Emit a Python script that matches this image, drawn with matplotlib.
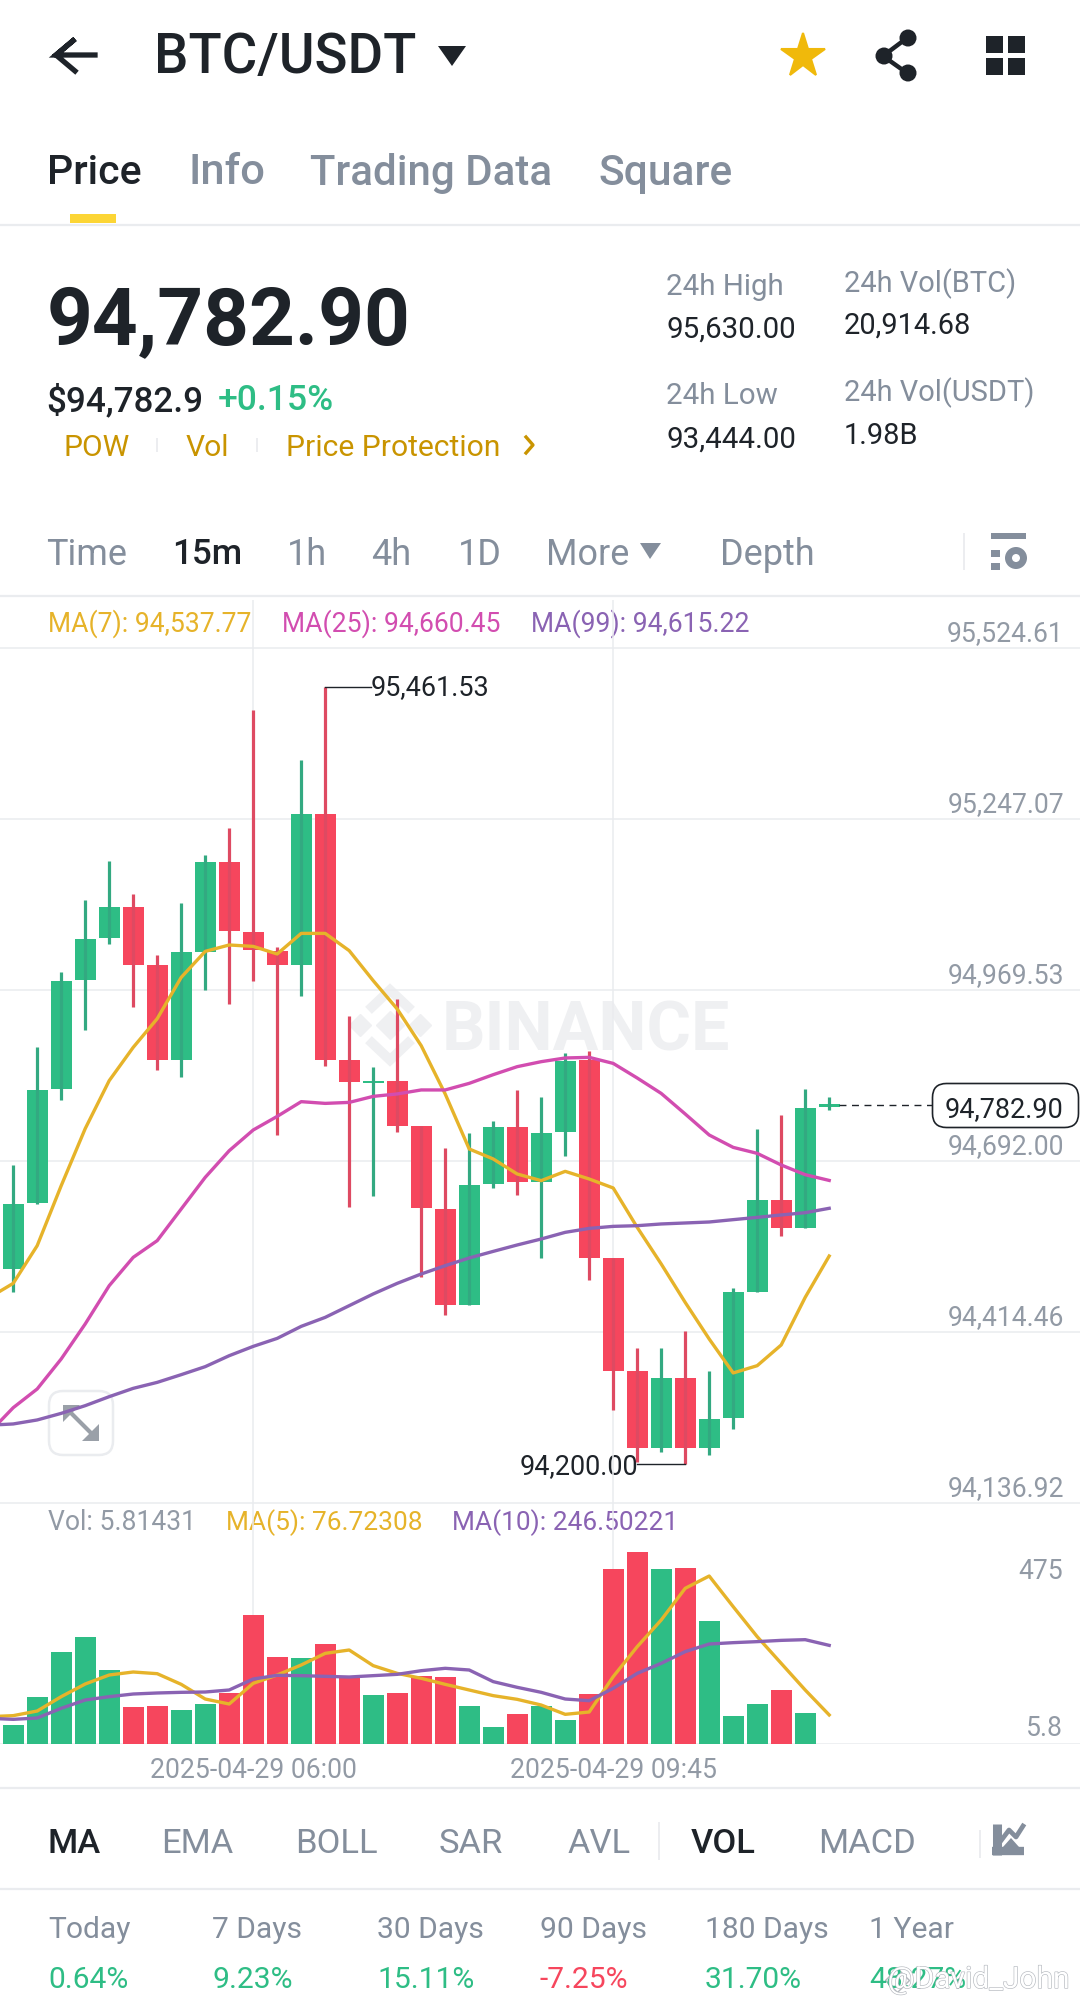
import matplotlib
matplotlib.use("Agg")
import matplotlib.pyplot as plt
import matplotlib.patheffects as pe
from matplotlib.patches import FancyBboxPatch, Polygon, Rectangle, Circle

plt.rcParams['font.family'] = ['Roboto', 'DejaVu Sans']

# candles, oldest first
opens = [94516.7, 94623.2, 94808.9, 94986.3, 95053.3, 95104.3, 95009.5, 94856.4, 95031.7, 95177.8,
         95064.2, 95033.4, 95010.1, 95255.2, 94855.3, 94818.3, 94822.4, 94748.2, 94614.1, 94458.8,
         94654.7, 94746.6, 94657.3, 94738.5, 94856.0, 94534.6, 94350.6, 94225.6, 94339.8, 94226.7,
         94274.9, 94479.9, 94629.2, 94582.6, 94780.0]
highs = [94685.5, 94877.5, 94998.1, 95116.1, 95178.3, 95125.4, 95026.9, 95110.1, 95188.7, 95232.5,
         95424.0, 95039.8, 95343.3, 95461.53, 94927.9, 94843.9, 94955.0, 94749.0, 94712.5, 94737.5,
         94757.4, 94807.8, 94796.4, 94866.7, 94869.9, 94534.6, 94389.0, 94389.0, 94415.5, 94350.6,
         94485.9, 94744.0, 94766.0, 94808.9, 94795.3]
lows = [94478.8, 94622.7, 94791.5, 94904.6, 95044.2, 94941.3, 94840.2, 94827.7, 94970.1, 94946.8,
        94984.7, 94734.7, 94959.2, 94846.7, 94617.9, 94635.7, 94738.5, 94503.1, 94442.1, 94458.8,
        94648.2, 94637.3, 94534.0, 94699.5, 94498.9, 94287.9, 94202.9, 94219.1, 94200.00, 94215.4,
        94256.4, 94479.9, 94569.7, 94582.6, 94774.8]
closes = [94621.6, 94807.8, 94984.7, 95052.3, 95104.3, 95010.6, 94856.4, 95030.6, 95177.8, 95064.7,
          95034.5, 95010.1, 95255.2, 94856.4, 94819.6, 94821.2, 94749.3, 94615.1, 94458.8, 94653.6,
          94746.6, 94657.3, 94736.8, 94854.8, 94534.6, 94351.7, 94225.6, 94339.8, 94226.7, 94273.8,
          94478.8, 94629.2, 94582.6, 94778.1, 94782.90]

# moving averages start one candle before the first full candle (it is cut by the edge)
ma_x = list(range(-1, 35))
ma7 = [94470.2, 94493.4, 94554.6, 94651.9, 94744.5, 94822.4, 94876.4, 94923.0, 94990.0, 95032.2,
       95042.6, 95040.3, 95028.0, 95061.4, 95061.4, 95033.4, 94984.7, 94938.7, 94879.2, 94800.8,
       94711.5, 94695.3, 94670.9, 94660.1, 94675.2, 94662.8, 94648.2, 94584.3, 94524.9, 94462.5,
       94403.1, 94348.0, 94359.8, 94393.4, 94470.7, 94537.77]
ma25 = [94251.1, 94291.6, 94322.0, 94370.7, 94427.5, 94489.6, 94535.6, 94562.7, 94614.1, 94665.4,
        94708.7, 94742.3, 94764.4, 94788.3, 94785.5, 94787.1, 94796.9, 94800.8, 94807.3, 94807.3,
        94818.0, 94832.1, 94845.1, 94853.2, 94859.2, 94860.2, 94850.4, 94826.7, 94801.7, 94768.3,
        94734.2, 94714.1, 94704.4, 94685.5, 94669.8, 94660.45]
ma99 = [94263.2, 94265.2, 94271.7, 94282.4, 94294.9, 94309.5, 94323.0, 94332.7, 94345.2, 94358.2,
        94376.0, 94391.1, 94404.1, 94423.6, 94438.2, 94457.2, 94476.2, 94493.4, 94508.6, 94522.1,
        94534.6, 94545.3, 94555.7, 94565.4, 94576.2, 94582.6, 94585.9, 94587.0, 94589.8, 94591.4,
        94593.0, 94596.8, 94600.5, 94604.4, 94608.1, 94615.22]

volumes = [52.1, 120.5, 230.3, 267.7, 185.6, 96.1, 98.6, 89.6, 103.4, 131.1,
           320.6, 217.3, 215.7, 249.8, 170.1, 125.4, 129.4, 172.6, 169.3, 98.6,
           47.3, 79.0, 99.4, 63.6, 127.0, 433.7, 475.0, 432.0, 435.3, 305.2,
           73.3, 104.2, 136.8, 80.6, 5.81431]
vol_ma5 = [72.5, 75.0, 86.3, 121.3, 152.2, 174.2, 181.5, 177.4, 151.4, 115.6,
           103.4, 153.8, 174.2, 198.6, 227.0, 235.2, 197.0, 178.2, 166.1, 151.4,
           137.6, 123.8, 114.8, 100.9, 78.2, 83.9, 170.1, 243.3, 308.4, 385.7,
           415.7, 340.9, 267.7, 202.6, 137.6, 76.72308]
vol_ma10 = [68.5, 66.0, 69.2, 92.9, 113.2, 121.3, 127.8, 130.3, 131.9, 132.7,
            137.6, 164.4, 173.4, 172.6, 170.9, 169.3, 172.6, 175.8, 184.7, 190.5,
            186.4, 158.0, 144.1, 131.9, 115.6, 111.5, 141.7, 178.2, 202.6, 231.2,
            249.8, 253.1, 255.6, 258.7, 260.4, 246.50221]

price_ticks = [95524.61, 95247.07, 94969.53, 94692.00, 94414.46, 94136.92]
price_labels = ['95,524.61', '95,247.07', '94,969.53', '94,692.00', '94,414.46', '94,136.92']
time_ticks = [10, 25]
time_labels = ['2025-04-29 06:00', '2025-04-29 09:45']

GREEN = '#2EBD85'
RED = '#F6465D'
GREEN_WICK = '#33A981'
RED_WICK = '#DE4A62'
YELLOW = '#E6B32A'
PINK = '#D24DB0'
PURPLE = '#8A63B3'
DARK = '#1E2329'
GRAY = '#848E9C'
LABEL = '#929AA5'
GOLD = '#C99400'
LINE = '#EAECEF'
MARK = '#EFF0F2'

W, H = 1080, 2002
fig = plt.figure(figsize=(W / 100, H / 100), dpi=100, facecolor='white')

# page layer in pixel coordinates
ui = fig.add_axes([0, 0, 1, 1], zorder=0)
ui.set_xlim(0, W)
ui.set_ylim(H, 0)
ui.axis('off')


def txt(x, y, s, size, color=GRAY, weight='normal', ha='left'):
    # +3 because va=center sits a little high for these fonts
    return ui.text(x, y + 3, s, fontsize=size * 0.72, color=color, fontweight=weight, ha=ha, va='center')


def hline(y, x0=0, x1=W, color=LINE, lw=1.6):
    ui.plot([x0, x1], [y, y], color=color, lw=lw, solid_capstyle='butt')


def vline(x, y0, y1, color=LINE, lw=1.3):
    ui.plot([x, x], [y0, y1], color=color, lw=lw, solid_capstyle='butt')


# header
ui.plot([95, 56, 75, 56, 75], [55, 55, 39, 55, 71], color=DARK, lw=3.8, solid_joinstyle='miter')
txt(154, 55, 'BTC/USDT', 54.5, DARK, 'medium')
ui.add_patch(Polygon([[438, 46], [466, 46], [452, 66]], color=DARK, lw=0))
ui.plot(803, 56, marker='*', ms=33, color='#F0B90B', mec='#F0B90B', mew=1.5)
ui.plot([907, 883, 907], [38, 56, 73], color=DARK, lw=3.2)
for cx, cy in [(908, 38), (884, 56), (908, 73)]:
    ui.add_patch(Circle((cx, cy), 8.5, color=DARK, lw=0))
for gx, gy in [(986, 36), (1008, 36), (986, 58), (1008, 58)]:
    ui.add_patch(Rectangle((gx, gy), 17, 17, color=DARK, lw=0))

# tabs
txt(47, 170, 'Price', 41, DARK, 'medium')
txt(188, 170, 'Info', 43.5, GRAY, 'medium')
txt(310, 170, 'Trading Data', 42, GRAY, 'medium')
txt(599, 170, 'Square', 42.5, GRAY, 'medium')
ui.add_patch(Rectangle((70, 214), 46, 9, color='#FCD535', lw=0))
hline(225)

# price block
txt(47, 320, '94,782.90', 80, DARK, 'bold')
txt(46, 398, '$94,782.9', 35, DARK, 'medium')
txt(218, 398, '+0.15%', 35.5, GREEN, 'medium')
txt(64, 445, 'POW', 30, GOLD)
vline(157, 438, 452)
txt(186, 445, 'Vol', 30, GOLD)
vline(257, 438, 452)
txt(286, 445, 'Price Protection', 30, GOLD)
ui.plot([526, 533, 526], [437, 445, 453], color=GOLD, lw=2.4)

txt(666, 284, '24h High', 29.5)
txt(666, 327, '95,630.00', 29.5, DARK)
txt(844, 281, '24h Vol(BTC)', 29)
txt(844, 323, '20,914.68', 29, DARK)
txt(666, 393, '24h Low', 29.5)
txt(666, 437, '93,444.00', 29.5, DARK)
txt(844, 390, '24h Vol(USDT)', 29)
txt(844, 433, '1.98B', 29, DARK)

# interval row
txt(46, 552, 'Time', 36)
txt(172, 552, '15m', 35, DARK, 'medium')
txt(287, 552, '1h', 36)
txt(371, 552, '4h', 36)
txt(458, 552, '1D', 36)
txt(546, 552, 'More', 36)
ui.add_patch(Polygon([[640, 543], [661, 543], [650, 559]], color=GRAY, lw=0))
txt(720, 552, 'Depth', 36)
vline(964, 533, 570)
ui.add_patch(Rectangle((991, 533), 35, 6, color=GRAY, lw=0))
ui.add_patch(Rectangle((991, 550), 9, 7, color=GRAY, lw=0))
ui.add_patch(Rectangle((991, 563), 9, 7, color=GRAY, lw=0))
ui.add_patch(Circle((1016, 558), 11, color=GRAY, lw=0))
ui.add_patch(Circle((1016, 558), 4, color='white', lw=0))
hline(596)

# legends above the panes
txt(48, 621, 'MA(7): 94,537.77', 26.5, YELLOW)
txt(282, 621, 'MA(25): 94,660.45', 26.5, PINK)
txt(531, 621, 'MA(99): 94,615.22', 26.5, PURPLE)
txt(48, 1520, 'Vol: 5.81431', 26.5, LABEL)
txt(226, 1520, 'MA(5): 76.72308', 26.2, YELLOW)
txt(452, 1520, 'MA(10): 246.50221', 26.2, PURPLE)

# watermark sits under the candles
txt(442, 1029, 'BINANCE', 68, MARK, 'bold')
ui.plot([372, 390, 408], [1007, 990, 1007], color=MARK, lw=7, solid_joinstyle='miter')
ui.plot([372, 390, 408], [1043, 1060, 1043], color=MARK, lw=7, solid_joinstyle='miter')
for mx, msize in [(360, 11), (390, 14), (420, 11)]:
    ui.plot(mx, 1025, marker='D', ms=msize, color=MARK)

# expand button
ui.add_patch(FancyBboxPatch((57, 1399), 48, 48, boxstyle='round,pad=8,rounding_size=14',
                            fc='white', ec=LINE, lw=1.8))
ui.plot([67, 93], [1409, 1435], color='#9AA0A8', lw=3)
ui.add_patch(Polygon([[63, 1405], [80, 1405], [63, 1422]], color='#9AA0A8', lw=0))
ui.add_patch(Polygon([[99, 1441], [82, 1441], [99, 1424]], color='#9AA0A8', lw=0))

# current price pill and extreme labels
ui.add_patch(FancyBboxPatch((942, 1093), 127, 25, boxstyle='round,pad=9.5,rounding_size=14',
                            fc='white', ec=DARK, lw=1.2))
txt(1063, 1107, '94,782.90', 27, DARK, ha='right')
txt(371, 685, '95,461.53', 27, DARK)
txt(638, 1464, '94,200.00', 27, DARK, ha='right')

# lower rows
hline(1788)
row_names = ['MA', 'EMA', 'BOLL', 'SAR', 'AVL', 'VOL', 'MACD']
row_x = [48, 161, 295, 439, 568, 691, 818]
for name, x in zip(row_names, row_x):
    active = name in ('MA', 'VOL')
    txt(x, 1841, name, 34.5, DARK if active else GRAY, 'medium' if active else 'normal')
vline(659, 1822, 1860)
vline(980, 1830, 1858)
ui.plot([996.5, 996.5], [1824, 1855], color=GRAY, lw=6.5, solid_capstyle='butt')
ui.plot([992, 1024], [1851, 1851], color=GRAY, lw=6, solid_capstyle='butt')
ui.plot([1000, 1009, 1016, 1023], [1842, 1830, 1837, 1826], color=GRAY, lw=3.4)
ui.add_patch(Polygon([[1003, 1847], [1019, 1847], [1011, 1838]], color=GRAY, lw=0))
hline(1889)

period_names = ['Today', '7 Days', '30 Days', '90 Days', '180 Days', '1 Year']
period_values = ['0.64%', '9.23%', '15.11%', '-7.25%', '31.70%', '48.27%']
period_x = [48, 212, 377, 540, 705, 869]
for name, val, x in zip(period_names, period_values, period_x):
    txt(x, 1927, name, 30)
    txt(x, 1977, val, 30, RED if val.startswith('-') else GREEN)
mark_text = txt(1070, 1977, '@David_John', 30, 'white', ha='right')
mark_text.set_path_effects([pe.Stroke(linewidth=0.9, foreground='#B4B8BE'), pe.Normal()])
ui.plot(897, 1980, marker='D', ms=12, mfc='white', mec='#B4B8BE', mew=1)

# x px = 13.2 + 24 * index for both panes
xlim = (-13.2 / 24, (W - 13.2) / 24)

# price pane, y 600..1503 px
price_ax = fig.add_axes([0, 1 - 1503 / H, 1, (1503 - 600) / H], zorder=1)
price_ax.patch.set_alpha(0)
price_ax.set_xlim(xlim)
price_ax.set_ylim(94136.92, 95602.5)
for s in price_ax.spines.values():
    s.set_visible(False)
price_ax.set_yticks(price_ticks)
price_ax.set_xticks(time_ticks)
price_ax.tick_params(length=0, labelleft=False, labelbottom=False)
price_ax.grid(True, color=LINE, lw=1.1)
price_ax.set_axisbelow(True)

for i in range(len(opens)):
    up = closes[i] >= opens[i]
    bottom = min(opens[i], closes[i])
    height = max(abs(closes[i] - opens[i]), 4)
    price_ax.vlines(i, lows[i], highs[i], color=GREEN_WICK if up else RED_WICK, lw=2.3)
    price_ax.bar(i, height, bottom=bottom, width=0.875, color=GREEN if up else RED, lw=0)

price_ax.plot(ma_x, ma7, color=YELLOW, lw=2.4)
price_ax.plot(ma_x, ma25, color=PINK, lw=2.4)
price_ax.plot(ma_x, ma99, color=PURPLE, lw=2.4)

for val, label in zip(price_ticks, price_labels):
    price_ax.annotate(label, (1064 / W, val), xycoords=price_ax.get_yaxis_transform(),
                      xytext=(0, 14), textcoords='offset pixels', ha='right', va='center',
                      fontsize=26.5 * 0.72, color=LABEL)

# high / low markers and last price line
price_ax.plot([13, 14.9], [95461.53, 95461.53], color=DARK, lw=1)
price_ax.plot([26.0, 28], [94200.00, 94200.00], color=DARK, lw=1)
price_ax.plot([34.4, 38.3], [closes[-1], closes[-1]], color=DARK, lw=1, ls=(0, (5, 4)))

# volume pane, y 1503..1744 px, baseline is the lowest volume so the last bar vanishes
vol_ax = fig.add_axes([0, 1 - 1744 / H, 1, (1744 - 1503) / H], zorder=1)
vol_ax.patch.set_alpha(0)
vol_ax.set_xlim(xlim)
vol_ax.set_ylim(5.81431, 593.9)
for s in vol_ax.spines.values():
    s.set_visible(False)
vol_colors = [GREEN if c >= o else RED for o, c in zip(opens, closes)]
vol_ax.bar(range(len(volumes)), volumes, width=0.875, color=vol_colors, lw=0)
vol_ax.plot(ma_x, vol_ma5, color=YELLOW, lw=2.4)
vol_ax.plot(ma_x, vol_ma10, color=PURPLE, lw=2.4)
vol_ax.set_yticks([5.81431, 593.9])
vol_ax.set_xticks(time_ticks)
vol_ax.set_xticklabels(time_labels, fontsize=26.5 * 0.72, color=LABEL)
vol_ax.tick_params(length=0, labelleft=False, pad=9)
vol_ax.grid(True, color=LINE, lw=1.1)
vol_ax.set_axisbelow(True)
vol_ax.text(1063 / W, 426, '475', transform=vol_ax.get_yaxis_transform(), ha='right', va='center',
            fontsize=26.5 * 0.72, color=LABEL)
vol_ax.text(1063 / W, 44, '5.8', transform=vol_ax.get_yaxis_transform(), ha='right', va='center',
            fontsize=26.5 * 0.72, color=LABEL)

fig.savefig('out.png', dpi=100)
